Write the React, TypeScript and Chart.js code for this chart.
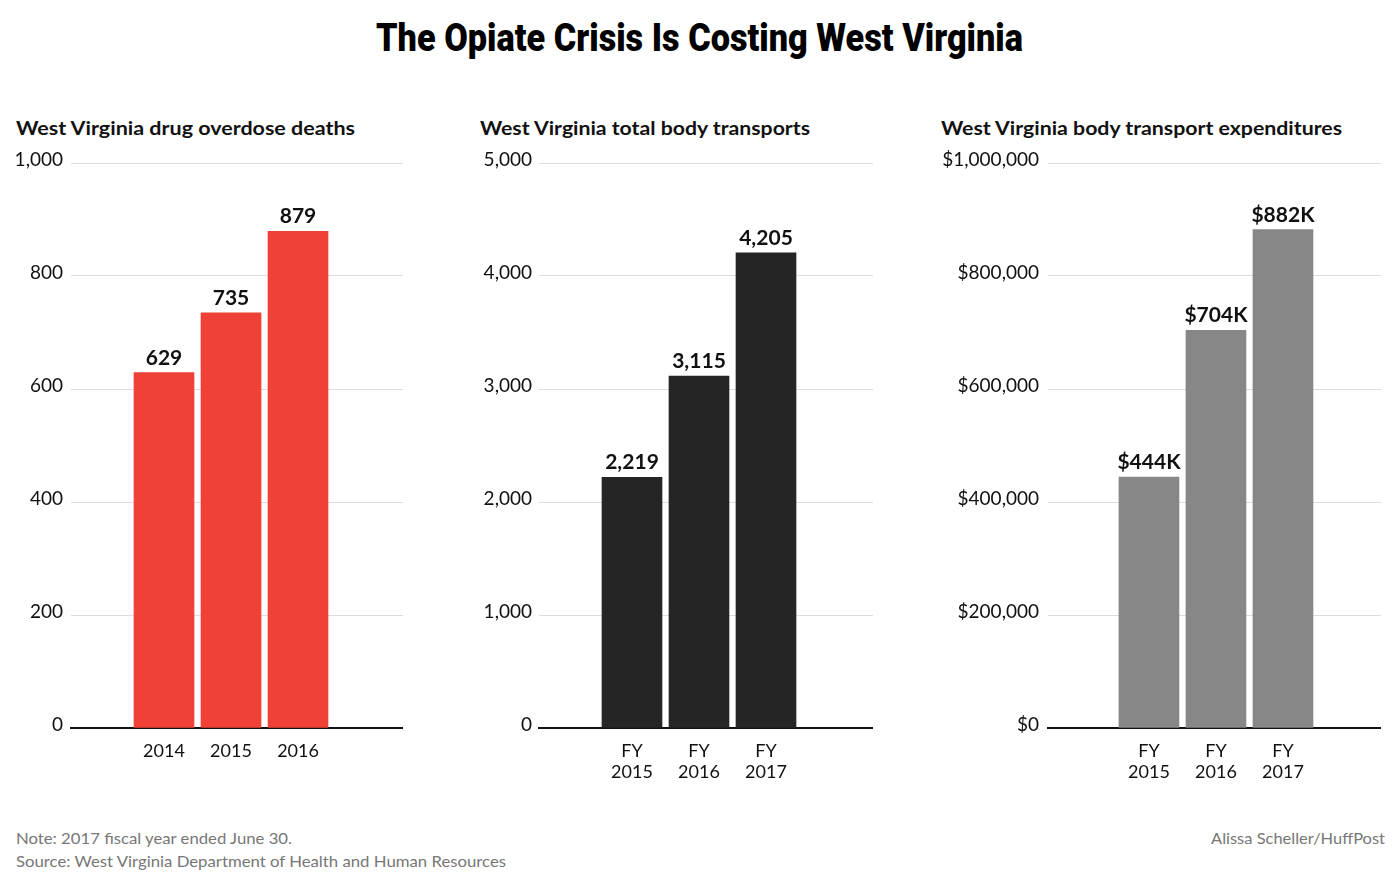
import React, { useEffect, useLayoutEffect, useRef } from 'react';
import { Chart, registerables } from 'chart.js';

Chart.register(...registerables);

const FONT = "Lato, 'Open Sans', sans-serif";

// ---- data ----
const deathYears = ['2014', '2015', '2016'];
const deathValues = [629, 735, 879];
const deathTicks = [0, 200, 400, 600, 800, 1000];

const fiscalYears = [['FY', '2015'], ['FY', '2016'], ['FY', '2017']];
const transportValues = [2219, 3115, 4205];
const transportTicks = [0, 1000, 2000, 3000, 4000, 5000];

const expenditureValues = [444000, 704000, 882000];
const expenditureTicks = [0, 200000, 400000, 600000, 800000, 1000000];

const fmt = (v: number) => v.toLocaleString('en-US');
const fmtDollar = (v: number) => '$' + v.toLocaleString('en-US');
const fmtK = (v: number) => '$' + Math.round(v / 1000) + 'K';

type PanelProps = {
  left: number;
  width: number;
  axisWidth: number;
  labelPad: number;
  xMin: number;
  xMax: number;
  color: string;
  categories: (string | string[])[];
  values: number[];
  ticks: number[];
  tickFormat: (v: number) => string;
  valueFormat: (v: number) => string;
};

const TOP = 130;
const HEIGHT = 670;

function Panel(p: PanelProps) {
  const ref = useRef<HTMLCanvasElement>(null);
  useEffect(() => {
    if (!ref.current) return;
    const labelPlugin = {
      id: 'valueLabels',
      afterDatasetsDraw(chart: any) {
        const { ctx } = chart;
        const meta = chart.getDatasetMeta(0);
        ctx.save();
        ctx.font = `bold 21px ${FONT}`;
        ctx.fillStyle = '#111';
        ctx.textAlign = 'center';
        ctx.textBaseline = 'alphabetic';
        meta.data.forEach((bar: any, i: number) => {
          ctx.fillText(p.valueFormat(p.values[i]), bar.x, bar.y - 8);
        });
        ctx.restore();
      },
    };
    const chart = new Chart(ref.current, {
      type: 'bar',
      data: {
        datasets: [
          {
            data: p.values.map((v, i) => ({ x: i, y: v })),
            backgroundColor: p.color,
            borderWidth: 0,
            barThickness: 60,
          } as any,
        ],
      },
      options: {
        animation: false,
        responsive: false,
        layout: { padding: { top: 33, left: 0, right: 0, bottom: 0 } },
        plugins: { legend: { display: false }, tooltip: { enabled: false }, title: { display: false } },
        scales: {
          x: {
            type: 'linear',
            offset: false,
            min: p.xMin,
            max: p.xMax,
            afterBuildTicks: (scale: any) => {
              scale.ticks = p.categories.map((_, i) => ({ value: i }));
            },
            afterFit: (scale: any) => {
              scale.height = 72;
            },
            grid: { display: true, drawOnChartArea: false, drawTicks: false, offset: false },
            border: { display: true, color: '#111', width: 2 },
            ticks: {
              padding: 12,
              color: '#111',
              font: { family: FONT, size: 18 },
              maxRotation: 0,
              autoSkip: false,
              callback: (v: any) => p.categories[v as number] as any,
            },
          },
          y: {
            min: p.ticks[0],
            max: p.ticks[p.ticks.length - 1],
            afterBuildTicks: (scale: any) => {
              scale.ticks = p.ticks.map((v) => ({ value: v }));
            },
            afterFit: (scale: any) => {
              scale.width = p.axisWidth;
            },
            grid: { color: '#dcdcdc', lineWidth: 1, drawTicks: false },
            border: { display: false },
            ticks: {
              padding: p.labelPad,
              color: '#111',
              labelOffset: -3,
              font: { family: FONT, size: 19 },
              callback: (v: any) => p.tickFormat(v as number),
            },
          },
        },
      },
      plugins: [labelPlugin],
    });
    return () => chart.destroy();
  }, []);
  return (
    <canvas
      ref={ref}
      width={p.width}
      height={HEIGHT}
      style={{ position: 'absolute', left: p.left, top: TOP, width: p.width, height: HEIGHT }}
    />
  );
}

function FitText({
  text,
  left,
  top,
  width,
  style,
}: {
  text: string;
  left: number;
  top: number;
  width: number;
  style: React.CSSProperties;
}) {
  const ref = useRef<HTMLSpanElement>(null);
  useLayoutEffect(() => {
    const el = ref.current;
    if (!el) return;
    el.style.transform = 'none';
    const w = el.getBoundingClientRect().width;
    if (w > 0) el.style.transform = `scaleX(${width / w})`;
  }, [text, width]);
  return (
    <span
      ref={ref}
      style={{
        position: 'absolute',
        left,
        top,
        display: 'inline-block',
        whiteSpace: 'nowrap',
        transformOrigin: 'left top',
        lineHeight: 1,
        ...style,
      }}
    >
      {text}
    </span>
  );
}

export default function App() {
  const sub: React.CSSProperties = { fontFamily: FONT, fontWeight: 700, fontSize: 19, color: '#111' };
  const foot: React.CSSProperties = { fontFamily: FONT, fontWeight: 400, fontSize: 16, color: '#777' };
  return (
    <div style={{ position: 'absolute', left: 0, top: 0, width: 1400, height: 885, background: '#fff', overflow: 'hidden' }}>
      <FitText
        text="The Opiate Crisis Is Costing West Virginia"
        left={376}
        top={19}
        width={647}
        style={{ fontFamily: "Roboto, 'Open Sans', sans-serif", fontWeight: 900, fontSize: 38, color: '#000' }}
      />
      <FitText text="West Virginia drug overdose deaths" left={16} top={118} width={339} style={sub} />
      <FitText text="West Virginia total body transports" left={480} top={118} width={330} style={sub} />
      <FitText text="West Virginia body transport expenditures" left={941} top={118} width={401} style={sub} />

      <Panel
        left={0}
        width={403}
        axisWidth={71}
        labelPad={8}
        xMin={-1.388}
        xMax={3.567}
        color="#EF4135"
        categories={deathYears}
        values={deathValues}
        ticks={deathTicks}
        tickFormat={fmt}
        valueFormat={fmt}
      />
      <Panel
        left={440}
        width={433}
        axisWidth={99}
        labelPad={7}
        xMin={-1.388}
        xMax={3.597}
        color="#252525"
        categories={fiscalYears}
        values={transportValues}
        ticks={transportTicks}
        tickFormat={fmt}
        valueFormat={fmt}
      />
      <Panel
        left={920}
        width={461}
        axisWidth={128}
        labelPad={9}
        xMin={-1.507}
        xMax={3.463}
        color="#878787"
        categories={fiscalYears}
        values={expenditureValues}
        ticks={expenditureTicks}
        tickFormat={fmtDollar}
        valueFormat={fmtK}
      />

      <FitText text="Note: 2017 fiscal year ended June 30." left={16} top={830} width={276} style={foot} />
      <FitText
        text="Source: West Virginia Department of Health and Human Resources"
        left={16}
        top={853}
        width={490}
        style={foot}
      />
      <FitText text="Alissa Scheller/HuffPost" left={1211} top={830} width={174} style={foot} />
    </div>
  );
}
